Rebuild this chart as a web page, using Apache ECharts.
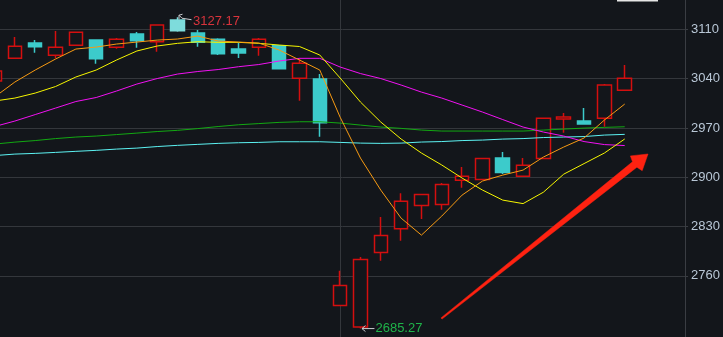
<!DOCTYPE html>
<html><head><meta charset="utf-8">
<script src="https://cdn.jsdelivr.net/npm/echarts@6/dist/echarts.min.js"></script>
<style>html,body{margin:0;padding:0;background:#13161b;overflow:hidden}#c{width:723px;height:337px}</style>
</head><body><div id="c"></div>
<script>
// ---- data ----
const opens  = [3036.6,3068.8,3090.5,3073.1,3087.3,3094.8,3084.4,3103.3,3092.4,3123.2,3104.7,3095.8,3082.0,3084.4,3086.7,3040.4,3039.4,2718.1,2687.5,2793.3,2826.9,2860.0,2861.5,2895.6,2897.0,2927.2,2901.3,2926.8,2982.6,2979.8,2983.6,3023.4];
const closes = [3050.8,3085.9,3085.3,3084.4,3105.7,3068.3,3095.8,3093.8,3116.1,3108.0,3091.5,3075.4,3076.3,3095.8,3054.0,3061.7,2977.4,2746.5,2783.4,2817.5,2865.8,2875.7,2889.9,2901.3,2926.8,2906.9,2916.9,2983.6,2985.5,2975.5,3030.9,3040.4];
const lows   = [3036.6,3068.8,3076.8,3069.0,3087.3,3061.2,3082.5,3083.9,3078.2,3106.6,3085.3,3073.5,3069.2,3072.5,3054.0,3008.6,2957.5,2718.1,2685.27,2781.4,2809.8,2840.6,2853.8,2885.0,2897.0,2904.5,2901.3,2926.8,2963.2,2975.5,2971.7,3023.4];
const highs  = [3050.8,3099.0,3094.8,3107.6,3105.7,3094.8,3097.6,3106.2,3116.1,3127.17,3109.0,3097.2,3091.0,3097.6,3086.7,3068.8,3046.5,2767.2,2786.7,2843.5,2877.5,2875.7,2891.7,2914.5,2926.8,2935.8,2927.2,2983.6,2991.1,2998.2,3032.3,3059.3];
const ma5   = [3013.9,3035.2,3052.2,3067.8,3082.0,3084.8,3089.1,3091.9,3094.7,3096.2,3100.4,3093.4,3091.9,3090.5,3080.6,3066.4,3052.2,2985.3,2927.3,2881.8,2842.0,2817.9,2844.9,2874.7,2894.6,2903.1,2910.2,2928.7,2942.9,2955.7,2981.2,3003.9];
const ma10  = [3008.2,3012.4,3019.5,3028.8,3042.3,3052.2,3066.4,3079.2,3086.3,3090.1,3092.4,3091.5,3091.5,3090.1,3087.7,3085.6,3073.5,3040.9,3006.8,2978.4,2954.3,2934.4,2917.4,2898.9,2881.9,2867.6,2862.6,2878.8,2904.4,2919.4,2934.4,2954.3];
const ma20  = [2972.0,2979.8,2989.0,2998.2,3007.5,3013.2,3022.4,3032.3,3040.1,3046.5,3050.1,3052.9,3056.9,3060.0,3065.0,3068.8,3068.8,3056.5,3047.2,3040.1,3030.9,3020.9,3012.4,3002.5,2992.6,2981.9,2971.3,2964.2,2958.5,2950.7,2946.4,2945.0];
const ma60  = [2947.1,2949.9,2952.1,2954.9,2957.1,2958.5,2960.6,2962.7,2964.9,2966.6,2969.1,2972.0,2974.5,2976.2,2977.9,2978.8,2978.8,2976.9,2974.1,2971.3,2969.4,2967.0,2965.6,2965.6,2965.6,2965.6,2965.6,2967.0,2968.4,2969.8,2970.8,2971.7];
const ma120 = [2930.8,2932.9,2933.9,2935.3,2936.8,2938.2,2940.0,2941.4,2943.6,2945.3,2946.7,2948.1,2949.0,2949.5,2950.4,2950.4,2950.4,2949.5,2948.5,2948.1,2948.5,2950.0,2950.7,2952.1,2952.8,2954.2,2954.9,2956.4,2957.1,2957.8,2959.9,2960.9];
const yTicks = [2760, 2830, 2900, 2970, 3040, 3110];
const highlightIndex = 9;   // highest candle
const lowIndex = 18;        // lowest candle
const splitIndex = 17;      // vertical divider
const maxLabel = '3127.17';
const minLabel = '2685.27';

// ---- chart ----
const BG = '#13161b';
const UP = '#d40f0f';
const DOWN = '#3ccbcb';
const chart = echarts.init(document.getElementById('c'), null, {renderer: 'canvas'});

const candleData = opens.map((o, i) => {
  const item = {value: [i, o, closes[i], lows[i], highs[i]]};
  if (i === highlightIndex) item.itemStyle = {color0: '#7edcdc', borderColor0: '#7edcdc'};
  return item;
});
const toXY = arr => arr.map((v, i) => [i, v]);
const lineSeries = (name, arr, color) => ({
  name, type: 'line', data: toXY(arr), showSymbol: false, symbol: 'none', smooth: false,
  lineStyle: {color, width: 1}, itemStyle: {color}, z: 3, silent: true, animation: false
});

chart.setOption({
  backgroundColor: BG,
  animation: false,
  grid: {left: 0, right: 31, top: 0, bottom: 0, containLabel: false},
  xAxis: {
    type: 'value', min: 0.268, max: 33.97,
    axisLine: {show: false}, axisTick: {show: false}, axisLabel: {show: false}, splitLine: {show: false}
  },
  yAxis: {
    type: 'value', position: 'right', min: 2673.3, max: 3151.6, scale: true,
    axisLine: {show: true, lineStyle: {color: '#3a3d43', width: 1}},
    axisTick: {show: true, customValues: yTicks, length: 3, inside: false, lineStyle: {color: '#3a3d43'}},
    axisLabel: {show: true, customValues: yTicks, color: '#b9c7d6', fontSize: 13, margin: 6,
      fontFamily: 'Liberation Sans, Arial, sans-serif', formatter: v => String(Math.round(v))},
    splitLine: {show: false}
  },
  series: [
    {
      name: 'grid', type: 'line', data: [], z: 0, silent: true,
      markLine: {
        silent: true, symbol: ['none', 'none'], z: 0, animation: false,
        label: {show: false},
        lineStyle: {color: '#34373c', type: 'solid', width: 1},
        emphasis: {disabled: true},
        data: yTicks.map(v => ({yAxis: v})).concat([{xAxis: splitIndex}])
      }
    },
    {
      name: 'K', type: 'candlestick', data: candleData, encode: {x: 0, y: [1, 2, 3, 4]},
      barWidth: 14, z: 2, silent: true,
      itemStyle: {color: BG, color0: DOWN, borderColor: UP, borderColor0: DOWN, borderWidth: 1.5}
    },
    lineSeries('MA120', ma120, '#5cf2f2'),
    lineSeries('MA60', ma60, '#12a812'),
    lineSeries('MA20', ma20, '#f211f2'),
    lineSeries('MA10', ma10, '#f6f600'),
    lineSeries('MA5', ma5, '#f79a12')
  ]
});

// ---- annotations ----
const pHi = chart.convertToPixel({gridIndex: 0}, [highlightIndex, highs[highlightIndex]]);
const pLo = chart.convertToPixel({gridIndex: 0}, [lowIndex, lows[lowIndex]]);
const hx = pHi[0], hy = pHi[1], lx = pLo[0], ly = pLo[1];
chart.setOption({
  graphic: [
    // top max marker
    {type: 'polyline', silent: true, z: 10, shape: {points: [[hx + 14, hy + 2.5], [hx + 4.5, hy + 1], [hx + 1.5, hy - 2]]},
      style: {stroke: '#c9ccd0', lineWidth: 1, fill: null}},
    {type: 'polyline', silent: true, z: 10, shape: {points: [[hx + 1.5, hy + 2], [hx + 1.5, hy - 2], [hx + 5, hy - 3]]},
      style: {stroke: '#c9ccd0', lineWidth: 1, fill: null}},
    {type: 'text', silent: true, z: 10, x: hx + 15.5, y: hy + 4.5,
      style: {text: maxLabel, fill: '#d8343c', fontSize: 13, fontFamily: 'Liberation Sans, Arial, sans-serif', verticalAlign: 'middle'}},
    // bottom min marker
    {type: 'line', silent: true, z: 10, shape: {x1: lx + 1.5, y1: ly, x2: lx + 14, y2: ly},
      style: {stroke: '#c9ccd0', lineWidth: 1}},
    {type: 'polyline', silent: true, z: 10, shape: {points: [[lx + 5, ly - 3], [lx + 1.5, ly], [lx + 5, ly + 3]]},
      style: {stroke: '#c9ccd0', lineWidth: 1, fill: null}},
    {type: 'text', silent: true, z: 10, x: lx + 15, y: ly,
      style: {text: minLabel, fill: '#1fb44a', fontSize: 13, fontFamily: 'Liberation Sans, Arial, sans-serif', verticalAlign: 'middle'}},
    // red hand-drawn arrow
    {type: 'polygon', silent: true, z: 20,
      shape: {points: [[441.0, 317.9], [632.5, 161.8], [630.4, 155.9], [648, 154], [642.2, 170.7], [636.9, 167.2], [442.0, 319.1]]},
      style: {fill: '#ff2211', stroke: '#ff2211', lineWidth: 0.5}},
    // cropped header remnant at top
    {type: 'rect', silent: true, z: 20, shape: {x: 617, y: 0, width: 41, height: 1.5}, style: {fill: '#e6e6e6'}}
  ]
});
</script>
</body></html>
